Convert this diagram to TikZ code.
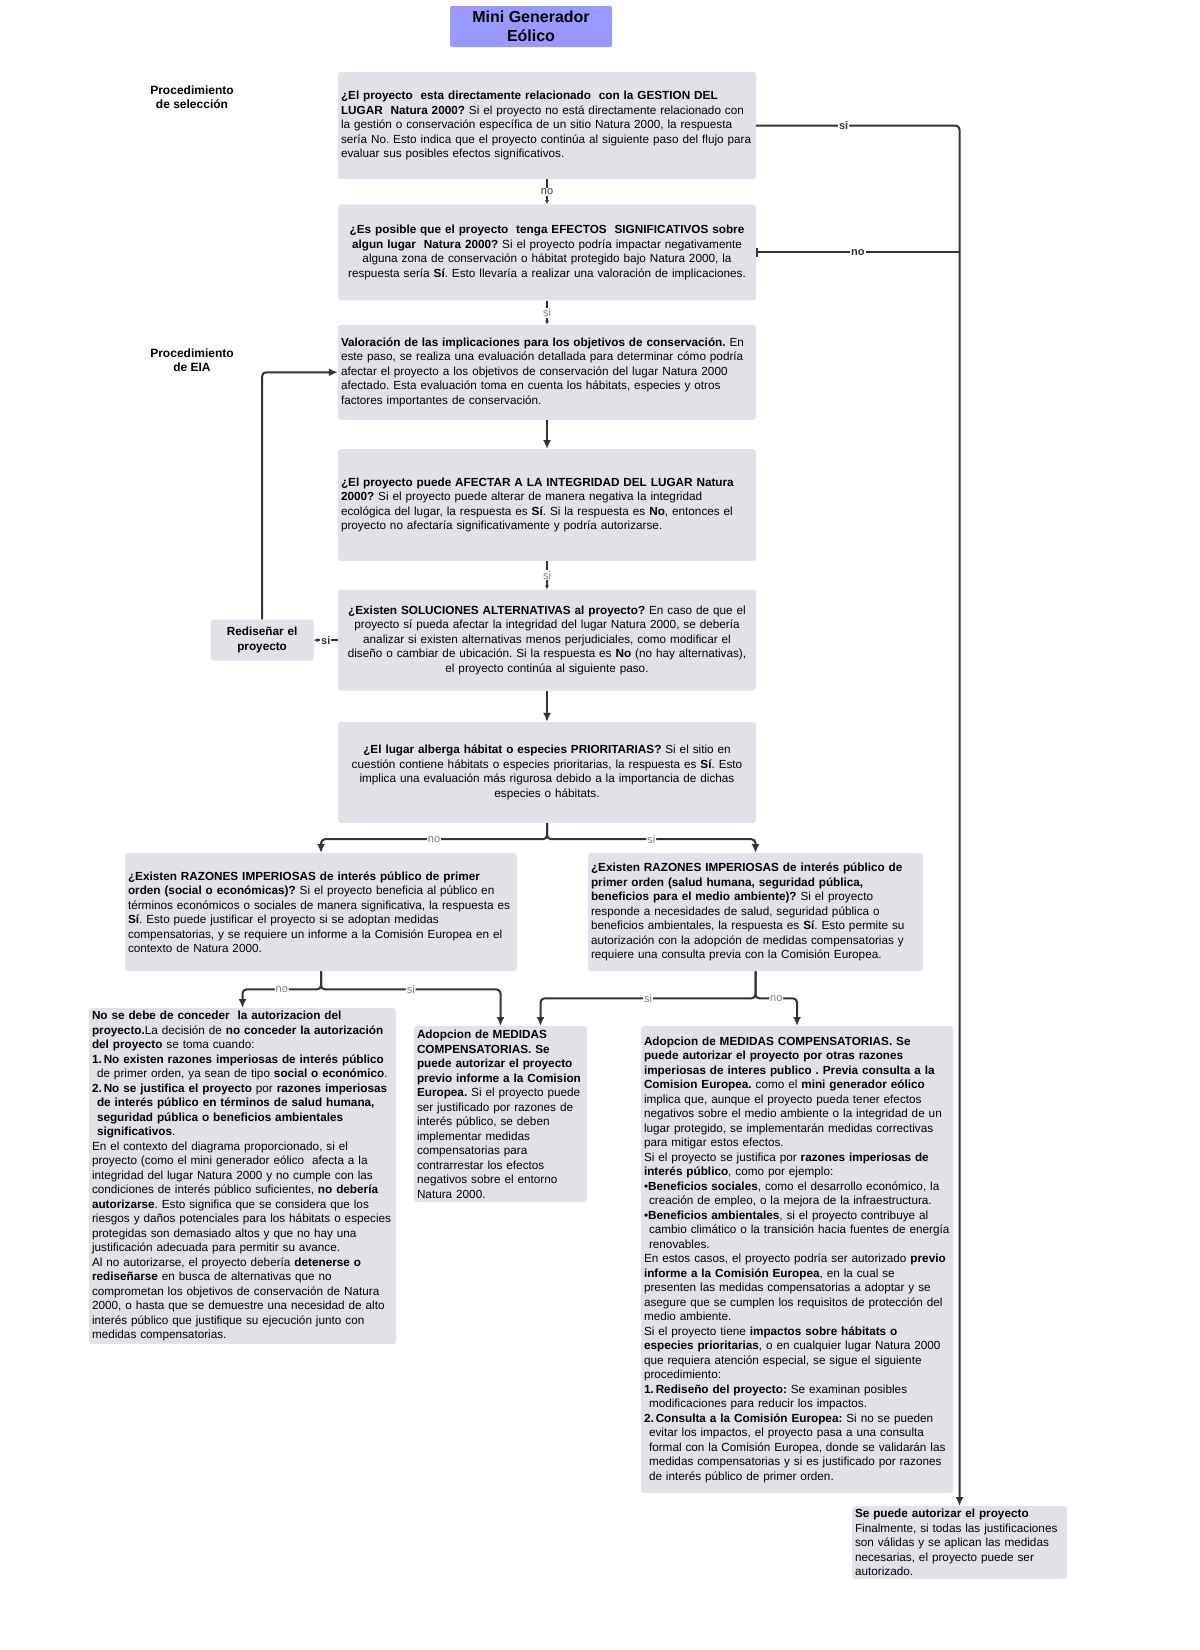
\documentclass[tikz,border=0pt]{standalone}
\usepackage{fontspec}
\setmainfont{Liberation Sans}
\frenchspacing
\usetikzlibrary{arrows.meta,positioning}
\definecolor{GrisCaja}{RGB}{223,227,232}
\definecolor{Lavanda}{RGB}{153,153,255}
\definecolor{GrisLinea}{RGB}{51,51,51}
\definecolor{GrisEtiqueta}{RGB}{125,125,125}
\tikzset{
  pasobox/.style={fill=GrisCaja, rounded corners=3pt, align=left, text width=#1,
    font=\fontsize{11.75}{14.5}\selectfont, inner xsep=3pt, inner ysep=3pt,
    execute at begin node={\hyphenpenalty=10000\rightskip=-25pt plus 1fil\relax}},
  pasobox/.default=412pt,
  centrobox/.style={pasobox=#1, align=center,
    execute at begin node={\hyphenpenalty=10000\leftskip=-12pt plus 1fil\rightskip=-12pt plus 1fil\relax}},
  centrobox/.default=412pt,
  titulobox/.style={fill=Lavanda, rounded corners=2pt, align=center, minimum width=162pt,
    minimum height=41pt, font=\fontsize{16}{19}\selectfont\bfseries},
  procnota/.style={align=center, font=\fontsize{12}{14.5}\selectfont\bfseries},
  flujoarr/.style={-{Latex[length=9pt, width=8pt]}, line width=2pt, GrisLinea, rounded corners=4pt},
  cortoarr/.style={-{Latex[length=4pt, width=4pt]}, line width=1.5pt, GrisLinea},
  etiq/.style={fill=white, inner sep=1pt, font=\fontsize{11}{12}\selectfont},
  etiqgris/.style={etiq, text=GrisEtiqueta},
  etiqneg/.style={etiq, font=\fontsize{11}{12}\selectfont\bfseries},
}

\begin{document}
\begin{tikzpicture}[x=1pt, y=-1pt]
    \fill[white] (0,0) rectangle (1200,1650);
    \useasboundingbox (0,0) rectangle (1200,1650);

    \node[titulobox] (titulo) at (531,26.5) {Mini Generador\\Eólico};
    \node[procnota] (psel) at (192,97) {Procedimiento\\de selección};
    \node[procnota] (peia) at (192,360) {Procedimiento\\de EIA};

    % columna central
    \node[pasobox, minimum height=107pt] (b1) at (547,125.5) {\textbf{¿El proyecto\ \ esta directamente relacionado\ \ con la GESTION DEL}\\
      \textbf{LUGAR\ \ Natura 2000?} Si el proyecto no está directamente relacionado con\\
      la gestión o conservación específica de un sitio Natura 2000, la respuesta\\
      sería No. Esto indica que el proyecto continúa al siguiente paso del flujo para\\
      evaluar sus posibles efectos significativos.};
    \node[centrobox, minimum height=96pt, below=25pt of b1] (b2) {\textbf{¿Es posible que el proyecto\ \ tenga EFECTOS\ \ SIGNIFICATIVOS sobre}\\
      \textbf{algun lugar\ \ Natura 2000?} Si el proyecto podría impactar negativamente\\
      alguna zona de conservación o hábitat protegido bajo Natura 2000, la\\
      respuesta sería \textbf{Sí}. Esto llevaría a realizar una valoración de implicaciones.};
    \node[pasobox, minimum height=95pt, below=24pt of b2] (b3) {\textbf{Valoración de las implicaciones para los objetivos de conservación.} En\\
      este paso, se realiza una evaluación detallada para determinar cómo podría\\
      afectar el proyecto a los objetivos de conservación del lugar Natura 2000\\
      afectado. Esta evaluación toma en cuenta los hábitats, especies y otros\\
      factores importantes de conservación.};
    \node[pasobox, minimum height=112pt, below=29pt of b3] (b4) {\textbf{¿El proyecto puede AFECTAR A LA INTEGRIDAD DEL LUGAR Natura}\\
      \textbf{2000?} Si el proyecto puede alterar de manera negativa la integridad\\
      ecológica del lugar, la respuesta es \textbf{Sí}. Si la respuesta es \textbf{No}, entonces el\\
      proyecto no afectaría significativamente y podría autorizarse.};
    \node[centrobox, minimum height=101pt, below=28pt of b4] (b5) {\textbf{¿Existen SOLUCIONES ALTERNATIVAS al proyecto?} En caso de que el\\
      proyecto sí pueda afectar la integridad del lugar Natura 2000, se debería\\
      analizar si existen alternativas menos perjudiciales, como modificar el\\
      diseño o cambiar de ubicación. Si la respuesta es \textbf{No} (no hay alternativas),\\
      el proyecto continúa al siguiente paso.};
    \node[centrobox, minimum height=101pt, below=31pt of b5] (b6) {\textbf{¿El lugar alberga hábitat o especies PRIORITARIAS?} Si el sitio en\\
      cuestión contiene hábitats o especies prioritarias, la respuesta es \textbf{Sí}. Esto\\
      implica una evaluación más rigurosa debido a la importancia de dichas\\
      especies o hábitats.};
    \node[centrobox=97pt, minimum height=41pt, left=24pt of b5] (redis) {\textbf{Rediseñar el}\\\textbf{proyecto}};

    % razones imperiosas
    \node[pasobox=386pt, minimum height=118pt, anchor=north] (b7) at (321,853) {\textbf{¿Existen RAZONES IMPERIOSAS de interés público de primer}\\
      \textbf{orden (social o económicas)?} Si el proyecto beneficia al público en\\
      términos económicos o sociales de manera significativa, la respuesta es\\
      \textbf{Sí}. Esto puede justificar el proyecto si se adoptan medidas\\
      compensatorias, y se requiere un informe a la Comisión Europea en el\\
      contexto de Natura 2000.};
    \node[pasobox=329pt, minimum height=118pt, anchor=north] (b8) at (755.5,853) {\textbf{¿Existen RAZONES IMPERIOSAS de interés público de}\\
      \textbf{primer orden (salud humana, seguridad pública,}\\
      \textbf{beneficios para el medio ambiente)?} Si el proyecto\\
      responde a necesidades de salud, seguridad pública o\\
      beneficios ambientales, la respuesta es \textbf{Sí}. Esto permite su\\
      autorización con la adopción de medidas compensatorias y\\
      requiere una consulta previa con la Comisión Europea.};

    % resultados
    \node[pasobox=301pt, minimum height=336pt, anchor=north] (b9) at (242.5,1008) {\textbf{No se debe de conceder\ \ la autorizacion del}\\
      \textbf{proyecto.}La decisión de \textbf{no conceder la autorización}\\
      \textbf{del proyecto} se toma cuando:\\
      \textbf{1.\,No existen razones imperiosas de interés público}\\
      \hspace*{5pt}de primer orden, ya sean de tipo \textbf{social o económico}.\\
      \textbf{2.\,No se justifica el proyecto} por \textbf{razones imperiosas}\\
      \hspace*{5pt}\textbf{de interés público en términos de salud humana,}\\
      \hspace*{5pt}\textbf{seguridad pública o beneficios ambientales}\\
      \hspace*{5pt}\textbf{significativos}.\\
      En el contexto del diagrama proporcionado, si el\\
      proyecto (como el mini generador eólico\ \ afecta a la\\
      integridad del lugar Natura 2000 y no cumple con las\\
      condiciones de interés público suficientes, \textbf{no debería}\\
      \textbf{autorizarse}. Esto significa que se considera que los\\
      riesgos y daños potenciales para los hábitats o especies\\
      protegidas son demasiado altos y que no hay una\\
      justificación adecuada para permitir su avance.\\
      Al no autorizarse, el proyecto debería \textbf{detenerse o}\\
      \textbf{rediseñarse} en busca de alternativas que no\\
      comprometan los objetivos de conservación de Natura\\
      2000, o hasta que se demuestre una necesidad de alto\\
      interés público que justifique su ejecución junto con\\
      medidas compensatorias.};
    \node[pasobox=167pt, minimum height=176pt, anchor=north] (b10) at (500.5,1026) {\textbf{Adopcion de MEDIDAS}\\
      \textbf{COMPENSATORIAS. Se}\\
      \textbf{puede autorizar el proyecto}\\
      \textbf{previo informe a la Comision}\\
      \textbf{Europea.} Si el proyecto puede\\
      ser justificado por razones de\\
      interés público, se deben\\
      implementar medidas\\
      compensatorias para\\
      contrarrestar los efectos\\
      negativos sobre el entorno\\
      Natura 2000.};
    \node[pasobox=306pt, minimum height=467pt, anchor=north] (b11) at (797,1026) {\textbf{Adopcion de MEDIDAS COMPENSATORIAS. Se}\\
      \textbf{puede autorizar el proyecto por otras razones}\\
      \textbf{imperiosas de interes publico . Previa consulta a la}\\
      \textbf{Comision Europea.} como el \textbf{mini generador eólico}\\
      implica que, aunque el proyecto pueda tener efectos\\
      negativos sobre el medio ambiente o la integridad de un\\
      lugar protegido, se implementarán medidas correctivas\\
      para mitigar estos efectos.\\
      Si el proyecto se justifica por \textbf{razones imperiosas de}\\
      \textbf{interés público}, como por ejemplo:\\
      •\textbf{Beneficios sociales}, como el desarrollo económico, la\\
      \hspace*{5pt}creación de empleo, o la mejora de la infraestructura.\\
      •\textbf{Beneficios ambientales}, si el proyecto contribuye al\\
      \hspace*{5pt}cambio climático o la transición hacia fuentes de energía\\
      \hspace*{5pt}renovables.\\
      En estos casos, el proyecto podría ser autorizado \textbf{previo}\\
      \textbf{informe a la Comisión Europea}, en la cual se\\
      presenten las medidas compensatorias a adoptar y se\\
      asegure que se cumplen los requisitos de protección del\\
      medio ambiente.\\
      Si el proyecto tiene \textbf{impactos sobre hábitats o}\\
      \textbf{especies prioritarias}, o en cualquier lugar Natura 2000\\
      que requiera atención especial, se sigue el siguiente\\
      procedimiento:\\
      \textbf{1.\,Rediseño del proyecto:} Se examinan posibles\\
      \hspace*{5pt}modificaciones para reducir los impactos.\\
      \textbf{2.\,Consulta a la Comisión Europea:} Si no se pueden\\
      \hspace*{5pt}evitar los impactos, el proyecto pasa a una consulta\\
      \hspace*{5pt}formal con la Comisión Europea, donde se validarán las\\
      \hspace*{5pt}medidas compensatorias y si es justificado por razones\\
      \hspace*{5pt}de interés público de primer orden.};
    \node[pasobox=209pt, minimum height=72pt, anchor=north] (b12) at (959.5,1506) {\textbf{Se puede autorizar el proyecto}\\
      Finalmente, si todas las justificaciones\\
      son válidas y se aplican las medidas\\
      necesarias, el proyecto puede ser\\
      autorizado.};

    % conectores
    \draw[cortoarr] (b1.south) -- node[etiq]{no} (b2.north);
    \draw[cortoarr] (b2.south) -- node[etiqgris]{si} (b3.north);
    \draw[flujoarr] (b3) -- (b4);
    \draw[cortoarr] (b4.south) -- node[etiqgris]{si} (b5.north);
    \draw[flujoarr] (b5) -- (b6);
    \draw[cortoarr] (b5.west) -- node[etiqneg]{si} (redis.east);
    \draw[flujoarr] (redis.north) |- (b3.west);

    \draw[flujoarr] (b1.east) -- node[etiqneg, pos=0.43]{si} (b1.east -| b12.north) -- (b12.north);
    \draw[{Bar[width=9pt]}-, line width=2pt, GrisLinea] (b2.east) -- node[etiqneg]{no} (b2.east -| b12.north);

    \draw[flujoarr] (b6.south) -- ++(0,16) -| node[etiqgris, pos=0.25]{no} (b7.north);
    \draw[flujoarr] (b6.south) -- ++(0,16) -| node[etiqgris, pos=0.25]{si} (b8.north);

    \draw[flujoarr] (b7.south) -- ++(0,18) -| node[etiqgris, pos=0.25]{no} (b9.north);
    \draw[flujoarr] (b7.south) -- ++(0,18) -| node[etiqgris, pos=0.25]{si} (b10.north);

    \draw[flujoarr] (b8.south) -- ++(0,27) -| node[etiqgris, pos=0.25]{si} ([xshift=40pt]b10.north);
    \draw[flujoarr] (b8.south) -- ++(0,27) -| node[etiqgris, pos=0.25]{no} (b11.north);
  \end{tikzpicture}
\end{document}
